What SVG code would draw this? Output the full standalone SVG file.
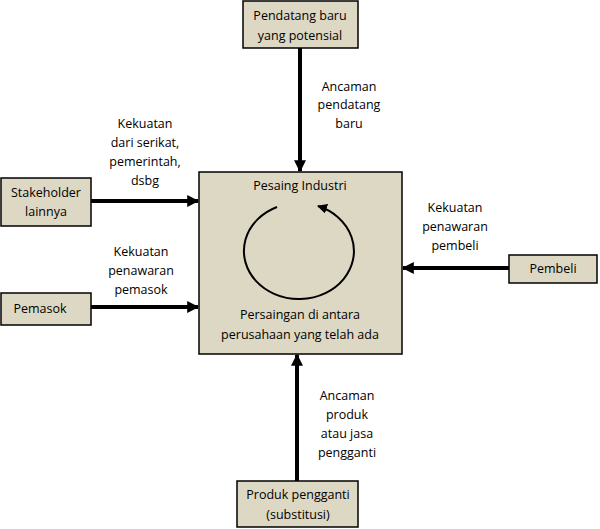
<svg xmlns="http://www.w3.org/2000/svg" width="600" height="529" viewBox="0 0 600 529">
<defs>
<style>
.box{fill:#ddd8c3;stroke:#000;stroke-width:1.5}
text{font-family:"Open Sans","Liberation Sans",sans-serif;font-size:12.5px;fill:#000;text-anchor:middle}
.c{stroke:#000;stroke-width:4;fill:none}
</style>
<marker id="ah" viewBox="0 0 10 10" refX="9" refY="5" markerWidth="3" markerHeight="3" orient="auto"><path d="M0,0L10,5L0,10z" fill="#000"/></marker>
<marker id="ah2" viewBox="0 0 10 10" refX="9" refY="5" markerWidth="5" markerHeight="5" orient="auto"><path d="M0,0L10,5L0,10z" fill="#000"/></marker>
</defs>
<rect width="600" height="529" fill="#fff"/>
<g id="connectors">
<line class="c" x1="300" y1="48" x2="300" y2="171" marker-end="url(#ah)"/>
<line class="c" x1="91" y1="201" x2="198" y2="201" marker-end="url(#ah)"/>
<line class="c" x1="91" y1="307" x2="198" y2="307" marker-end="url(#ah)"/>
<line class="c" x1="509" y1="268" x2="403" y2="268" marker-end="url(#ah)"/>
<line class="c" x1="297" y1="481" x2="297" y2="355" marker-end="url(#ah)"/>
<text x="349" y="91">Ancaman</text><text x="349" y="109">pendatang</text><text x="349" y="128">baru</text>
<text x="145" y="128">Kekuatan</text><text x="145" y="147">dari serikat,</text><text x="145" y="166">pemerintah,</text><text x="145" y="185">dsbg</text>
<text x="141" y="256">Kekuatan</text><text x="141" y="275">penawaran</text><text x="141" y="294">pemasok</text>
<text x="455" y="212">Kekuatan</text><text x="455" y="231">penawaran</text><text x="455" y="250">pembeli</text>
<text x="347" y="400">Ancaman</text><text x="347" y="419">produk</text><text x="347" y="438">atau jasa</text><text x="347" y="457">pengganti</text>
</g>
<g id="top"><rect class="box" x="243" y="1" width="115" height="47"/><text x="300" y="20">Pendatang baru</text><text x="300" y="40">yang potensial</text></g>
<g id="center"><rect class="box" x="199" y="172" width="203" height="182"/><text x="300" y="190">Pesaing Industri</text>
<path d="M277,207 A55,48 0 1 0 318,206" fill="none" stroke="#000" stroke-width="2" marker-end="url(#ah2)"/>
<text x="300" y="319">Persaingan di antara</text><text x="300" y="339">perusahaan yang telah ada</text></g>
<g id="stakeholder"><rect class="box" x="1" y="178" width="90" height="48"/><text x="46" y="197">Stakeholder</text><text x="46" y="216">lainnya</text></g>
<g id="pemasok"><rect class="box" x="1" y="293" width="90" height="32"/><text x="40" y="313">Pemasok</text></g>
<g id="pembeli"><rect class="box" x="509" y="255" width="88" height="28"/><text x="553" y="273">Pembeli</text></g>
<g id="bottom"><rect class="box" x="237" y="481" width="121" height="46"/><text x="298" y="499">Produk pengganti</text><text x="298" y="519">(substitusi)</text></g>
</svg>
